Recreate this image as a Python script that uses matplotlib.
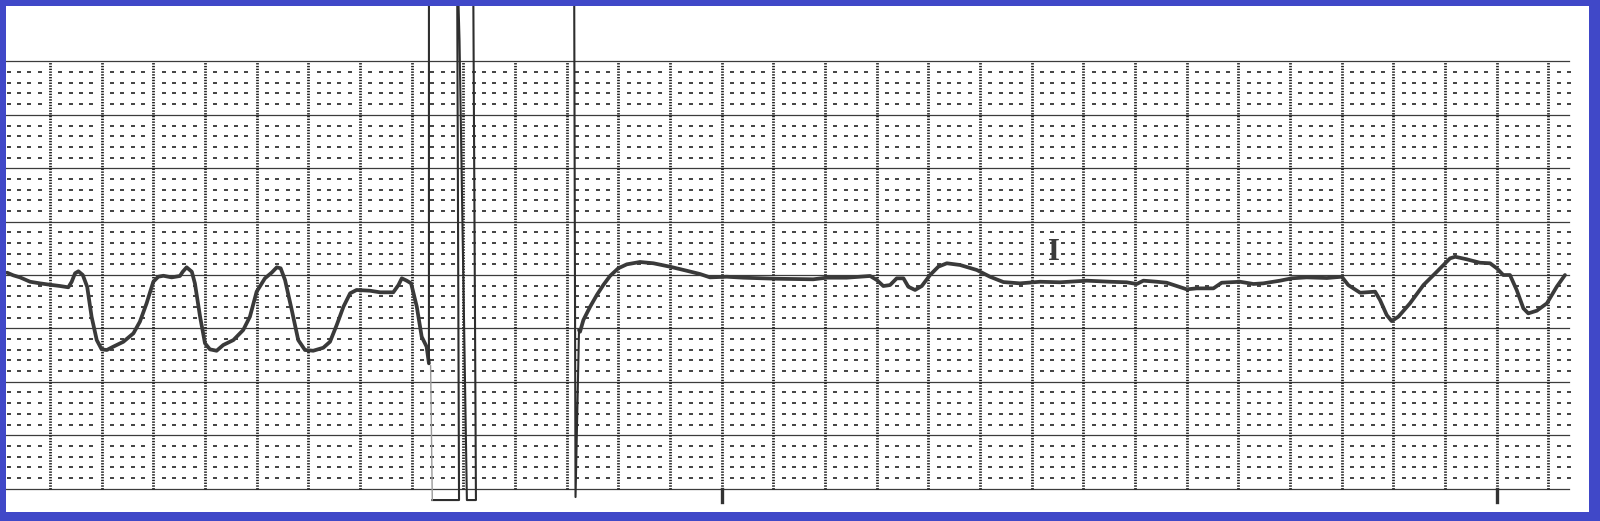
import numpy as np
import matplotlib
matplotlib.use("Agg")
import matplotlib.pyplot as plt

# Lead I strip, time in seconds, amplitude in mV (25 mm/s, 10 mm/mV)
lead_label = "I"
label_pos = (4.088, 0.213)

# trace before the shock artifact
pre_t = [0.034, 0.058, 0.084, 0.123, 0.161, 0.200, 0.239, 0.271, 0.284, 0.297,
         0.310, 0.327, 0.344, 0.361, 0.381, 0.400, 0.420, 0.445, 0.484, 0.523,
         0.548, 0.574, 0.600, 0.619, 0.639, 0.671, 0.703, 0.714, 0.729, 0.749,
         0.761, 0.781, 0.800, 0.819, 0.845, 0.871, 0.910, 0.948, 0.974, 1.000,
         1.032, 1.058, 1.078, 1.093, 1.110, 1.136, 1.161, 1.187, 1.219, 1.258,
         1.284, 1.310, 1.336, 1.362, 1.387, 1.439, 1.478, 1.529, 1.549, 1.562,
         1.581, 1.598, 1.620, 1.639, 1.658, 1.667]
pre_mv = [0.022, -0.003, -0.022, -0.063, -0.078, -0.091, -0.103, -0.115, -0.063, 0.016,
          0.035, 0.000, -0.110, -0.390, -0.609, -0.696, -0.702, -0.671, -0.625, -0.546,
          -0.437, -0.265, -0.063, -0.016, -0.007, -0.022, -0.009, 0.031, 0.072, 0.031,
          -0.078, -0.390, -0.639, -0.696, -0.709, -0.655, -0.609, -0.515, -0.390, -0.156,
          -0.031, 0.022, 0.072, 0.063, -0.047, -0.328, -0.609, -0.702, -0.709, -0.681,
          -0.625, -0.468, -0.297, -0.171, -0.140, -0.147, -0.162, -0.162, -0.094, -0.031,
          -0.053, -0.078, -0.297, -0.578, -0.671, -0.827]

# pen excursions of the shock artifact (goes off the top of the paper)
pen_t = [1.667, 1.667, None, 1.680, 1.7835, 1.776, 1.7854, 1.814, 1.849, 1.838,
         2.229, 2.2345, 2.248]
pen_mv = [-0.827, 3.0, None, -2.107, -2.107, 3.0, 2.200, -2.107, -2.107, 3.0,
          3.0, -2.079, -0.515]
faint_t = [1.6735, 1.680]
faint_mv = [-0.85, -2.107]

# trace after the artifact
post_t = [2.248, 2.252, 2.265, 2.291, 2.317, 2.342, 2.368, 2.400, 2.433, 2.484,
          2.536, 2.600, 2.665, 2.717, 2.755, 2.820, 2.884, 3.013, 3.155, 3.207,
          3.284, 3.375, 3.401, 3.426, 3.452, 3.478, 3.504, 3.523, 3.549, 3.575,
          3.607, 3.639, 3.672, 3.723, 3.788, 3.839, 3.891, 3.955, 4.033, 4.110,
          4.214, 4.304, 4.368, 4.407, 4.433, 4.485, 4.523, 4.562, 4.601, 4.639,
          4.704, 4.736, 4.807, 4.859, 4.897, 4.962, 5.007, 5.065, 5.143, 5.201,
          5.226, 5.272, 5.330, 5.349, 5.375, 5.394, 5.420, 5.465, 5.517, 5.569,
          5.620, 5.640, 5.685, 5.736, 5.775, 5.801, 5.826, 5.852, 5.878, 5.904,
          5.923, 5.956, 5.995, 6.033, 6.065]
post_mv = [-0.515, -0.531, -0.421, -0.297, -0.187, -0.094, -0.009, 0.063, 0.100, 0.122,
           0.110, 0.078, 0.040, 0.009, -0.022, -0.016, -0.025, -0.035, -0.040, -0.025,
           -0.025, -0.009, -0.047, -0.103, -0.094, -0.031, -0.031, -0.110, -0.140, -0.103,
           0.000, 0.078, 0.110, 0.094, 0.047, -0.016, -0.066, -0.078, -0.063, -0.068,
           -0.053, -0.063, -0.068, -0.084, -0.053, -0.063, -0.072, -0.103, -0.134, -0.125,
           -0.125, -0.072, -0.063, -0.084, -0.078, -0.053, -0.031, -0.022, -0.028, -0.016,
           -0.094, -0.166, -0.156, -0.234, -0.375, -0.431, -0.390, -0.265, -0.094, 0.031,
           0.156, 0.171, 0.147, 0.115, 0.110, 0.063, 0.000, 0.000, -0.140, -0.312,
           -0.359, -0.334, -0.265, -0.110, 0.000]

# 3 second marks under the paper
marker_t = [2.8, 5.8]

T_LEFT, T_RIGHT = 0.0297, 6.158
MV_LOW, MV_HIGH = -2.219, 2.519
GRID_END = 6.081


def draw_paper(ax):
    """ECG paper: solid rows, dotted columns, little dashes at 1 mm points."""
    for v in np.arange(-2.0, 2.01, 0.5):
        ax.plot([T_LEFT, GRID_END], [v, v], color="#3c3c3c", lw=0.9, zorder=1)
    for k in range(1, 31):
        ax.plot([0.2 * k, 0.2 * k], [-2.0, 2.0], color="#222222", lw=2.0,
                linestyle=(0, (0.5, 0.5)), zorder=1)

    xs, ys = [], []
    for j in range(1, int(GRID_END / 0.04) + 1):
        if j % 5 == 0:
            continue
        for i in range(-20, 21):
            if i % 5 == 0:
                continue
            xs.append(0.04 * j)
            ys.append(0.1 * i)
    ax.plot(xs, ys, linestyle="none", marker="_", markersize=2.3,
            markeredgewidth=1.2, color="#222222", zorder=1)

    for t in marker_t:
        ax.plot([t, t], [-2.0, -2.126], color="#333333", lw=2.4, zorder=2)


def draw_trace(ax):
    color = "#3a3a3a"
    ax.plot(pre_t, pre_mv, color=color, lw=2.7, solid_joinstyle="round",
            solid_capstyle="round", zorder=3)
    ax.plot(post_t, post_mv, color=color, lw=2.7, solid_joinstyle="round",
            solid_capstyle="round", zorder=3)
    pt = [np.nan if t is None else t for t in pen_t]
    pv = [np.nan if v is None else v for v in pen_mv]
    ax.plot(pt, pv, color="#2e2e2e", lw=1.5, zorder=3)
    ax.plot(faint_t, faint_mv, color="#9a9a9a", lw=1.0, zorder=3)
    ax.text(label_pos[0], label_pos[1], lead_label, fontsize=22, fontweight="bold",
            family=["Liberation Serif", "DejaVu Serif"], color="#3a3a3a",
            ha="center", va="center", zorder=4)


fig = plt.figure(figsize=(16, 5.21), dpi=100, facecolor="#4048c8")
ax = fig.add_axes([6 / 1600, 9 / 521, 1583 / 1600, 506 / 521])
ax.set_facecolor("white")
ax.set_xlim(T_LEFT, T_RIGHT)
ax.set_ylim(MV_LOW, MV_HIGH)
ax.set_xticks([])
ax.set_yticks([])
for s in ax.spines.values():
    s.set_visible(False)

draw_paper(ax)
draw_trace(ax)

fig.savefig("out.png", dpi=100, facecolor=fig.get_facecolor())
